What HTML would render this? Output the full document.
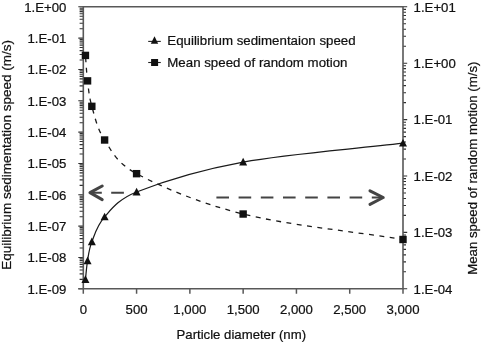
<!DOCTYPE html>
<html><head><meta charset="utf-8"><title>Chart</title><style>html,body{margin:0;padding:0;background:#fff}body{width:482px;height:342px;overflow:hidden}</style></head><body>
<svg width="482" height="342" viewBox="0 0 482 342" style="display:block" font-family="'Liberation Sans', Arial, sans-serif" fill="#111">
<style>text{stroke:#111;stroke-width:.22px}</style>
<rect width="482" height="342" fill="#fff"/>
<path d="M78.3 6.80H83.3M79.6 28.70H83.3M79.6 23.18H83.3M79.6 19.27H83.3M79.6 16.23H83.3M79.6 13.75H83.3M79.6 11.65H83.3M79.6 9.84H83.3M79.6 8.23H83.3M78.3 38.13H83.3M79.6 60.03H83.3M79.6 54.52H83.3M79.6 50.60H83.3M79.6 47.57H83.3M79.6 45.08H83.3M79.6 42.99H83.3M79.6 41.17H83.3M79.6 39.57H83.3M78.3 69.47H83.3M79.6 91.37H83.3M79.6 85.85H83.3M79.6 81.94H83.3M79.6 78.90H83.3M79.6 76.42H83.3M79.6 74.32H83.3M79.6 72.50H83.3M79.6 70.90H83.3M78.3 100.80H83.3M79.6 122.70H83.3M79.6 117.18H83.3M79.6 113.27H83.3M79.6 110.23H83.3M79.6 107.75H83.3M79.6 105.65H83.3M79.6 103.84H83.3M79.6 102.23H83.3M78.3 132.13H83.3M79.6 154.03H83.3M79.6 148.52H83.3M79.6 144.60H83.3M79.6 141.57H83.3M79.6 139.08H83.3M79.6 136.99H83.3M79.6 135.17H83.3M79.6 133.57H83.3M78.3 163.47H83.3M79.6 185.37H83.3M79.6 179.85H83.3M79.6 175.94H83.3M79.6 172.90H83.3M79.6 170.42H83.3M79.6 168.32H83.3M79.6 166.50H83.3M79.6 164.90H83.3M78.3 194.80H83.3M79.6 216.70H83.3M79.6 211.18H83.3M79.6 207.27H83.3M79.6 204.23H83.3M79.6 201.75H83.3M79.6 199.65H83.3M79.6 197.84H83.3M79.6 196.23H83.3M78.3 226.13H83.3M79.6 248.03H83.3M79.6 242.52H83.3M79.6 238.60H83.3M79.6 235.57H83.3M79.6 233.08H83.3M79.6 230.99H83.3M79.6 229.17H83.3M79.6 227.57H83.3M78.3 257.47H83.3M79.6 279.37H83.3M79.6 273.85H83.3M79.6 269.94H83.3M79.6 266.90H83.3M79.6 264.42H83.3M79.6 262.32H83.3M79.6 260.50H83.3M79.6 258.90H83.3M78.3 288.80H83.3" stroke="#303030" stroke-width="1.1" fill="none"/>
<path d="M403.0 6.80H407.2M403.0 46.22H406M403.0 36.29H406M403.0 29.24H406M403.0 23.78H406M403.0 19.31H406M403.0 15.54H406M403.0 12.27H406M403.0 9.38H406M403.0 63.20H407.2M403.0 102.62H406M403.0 92.69H406M403.0 85.64H406M403.0 80.18H406M403.0 75.71H406M403.0 71.94H406M403.0 68.67H406M403.0 65.78H406M403.0 119.60H407.2M403.0 159.02H406M403.0 149.09H406M403.0 142.04H406M403.0 136.58H406M403.0 132.11H406M403.0 128.34H406M403.0 125.07H406M403.0 122.18H406M403.0 176.00H407.2M403.0 215.42H406M403.0 205.49H406M403.0 198.44H406M403.0 192.98H406M403.0 188.51H406M403.0 184.74H406M403.0 181.47H406M403.0 178.58H406M403.0 232.40H407.2M403.0 271.82H406M403.0 261.89H406M403.0 254.84H406M403.0 249.38H406M403.0 244.91H406M403.0 241.14H406M403.0 237.87H406M403.0 234.98H406M403.0 288.80H407.2" stroke="#303030" stroke-width="1.1" fill="none"/>
<path d="M83.30 288.30V293.8M136.58 288.30V293.8M189.87 288.30V293.8M243.15 288.30V293.8M296.43 288.30V293.8M349.72 288.30V293.8M403.00 288.30V293.8" stroke="#585858" stroke-width="1.5" fill="none"/>
<path d="M83.3 288.80V6.80H403.0V288.80" stroke="#585858" stroke-width="1.6" fill="none"/>
<path d="M78.3 288.80H403.6" stroke="#585858" stroke-width="1.6" fill="none"/>
<path d="M85.43 55.40C86.14 63.89 86.50 72.38 87.56 80.87C88.63 89.36 88.98 96.48 91.83 106.33C94.67 116.19 97.15 128.78 104.61 140.00C111.23 149.95 116.11 162.73 136.58 173.67C159.67 186.00 198.75 203.06 243.15 214.03C287.55 225.00 349.72 231.01 403.00 239.50" stroke="#1a1a1a" stroke-width="1.3" fill="none" stroke-dasharray="4.9 5.5" stroke-dashoffset="-2"/>
<path d="M85.43 279.60C86.14 273.31 86.50 267.02 87.56 260.73C88.63 254.45 88.98 249.17 91.83 241.87C94.67 234.57 97.15 225.24 104.61 216.93C110.70 210.14 117.73 199.45 136.58 191.99C159.67 182.85 198.75 170.22 243.15 162.09C287.55 153.96 349.72 149.51 403.00 143.22" stroke="#1a1a1a" stroke-width="1.25" fill="none"/>
<rect x="81.73" y="51.70" width="7.4" height="7.4" fill="#111"/>
<rect x="83.86" y="77.17" width="7.4" height="7.4" fill="#111"/>
<rect x="88.13" y="102.63" width="7.4" height="7.4" fill="#111"/>
<rect x="100.91" y="136.30" width="7.4" height="7.4" fill="#111"/>
<rect x="132.88" y="169.97" width="7.4" height="7.4" fill="#111"/>
<rect x="239.45" y="210.33" width="7.4" height="7.4" fill="#111"/>
<rect x="399.30" y="235.80" width="7.4" height="7.4" fill="#111"/>
<path d="M85.43 275.30L89.43 283.00H81.43Z" fill="#111"/>
<path d="M87.56 256.43L91.56 264.13H83.56Z" fill="#111"/>
<path d="M91.83 237.57L95.83 245.27H87.83Z" fill="#111"/>
<path d="M104.61 212.63L108.61 220.33H100.61Z" fill="#111"/>
<path d="M136.58 187.69L140.58 195.39H132.58Z" fill="#111"/>
<path d="M243.15 157.79L247.15 165.49H239.15Z" fill="#111"/>
<path d="M403.00 138.92L407.00 146.62H399.00Z" fill="#111"/>
<path d="M148.2 41.4H160.8" stroke="#222" stroke-width="1.1"/>
<path d="M154.5 36.3L158.2 43.8H150.8Z" fill="#111"/>
<path d="M148.2 62.5H160.8" stroke="#222" stroke-width="1.1"/>
<rect x="151.1" y="59" width="7" height="7" fill="#111"/>
<text x="167.3" y="45.2" font-size="13" textLength="188.3" lengthAdjust="spacingAndGlyphs">Equilibrium sedimentaion speed</text>
<text x="167.3" y="66.6" font-size="13" textLength="180.2" lengthAdjust="spacingAndGlyphs">Mean speed of random motion</text>
<path d="M90 192.7H101.8M111.2 192.7H123.9" stroke="#444" stroke-width="2" fill="none"/>
<path d="M102.2 186L90 192.7L102.2 199.6" stroke="#444" stroke-width="3.05" fill="none" stroke-linejoin="round" stroke-linecap="round"/>
<path d="M216.4 197.5H383" stroke="#444" stroke-width="2" fill="none" stroke-dasharray="12.6 9.6"/>
<path d="M370 190.8L383.2 197.5L370 204.4" stroke="#444" stroke-width="3.05" fill="none" stroke-linejoin="round" stroke-linecap="round"/>
<text x="66.4" y="11.60" font-size="13.2" text-anchor="end">1.E+00</text>
<text x="66.4" y="42.93" font-size="13.2" text-anchor="end">1.E-01</text>
<text x="66.4" y="74.27" font-size="13.2" text-anchor="end">1.E-02</text>
<text x="66.4" y="105.60" font-size="13.2" text-anchor="end">1.E-03</text>
<text x="66.4" y="136.93" font-size="13.2" text-anchor="end">1.E-04</text>
<text x="66.4" y="168.27" font-size="13.2" text-anchor="end">1.E-05</text>
<text x="66.4" y="199.60" font-size="13.2" text-anchor="end">1.E-06</text>
<text x="66.4" y="230.93" font-size="13.2" text-anchor="end">1.E-07</text>
<text x="66.4" y="262.27" font-size="13.2" text-anchor="end">1.E-08</text>
<text x="66.4" y="293.60" font-size="13.2" text-anchor="end">1.E-09</text>
<text x="413.6" y="11.60" font-size="13.2">1.E+01</text>
<text x="413.6" y="68.00" font-size="13.2">1.E+00</text>
<text x="413.6" y="124.40" font-size="13.2">1.E-01</text>
<text x="413.6" y="180.80" font-size="13.2">1.E-02</text>
<text x="413.6" y="237.20" font-size="13.2">1.E-03</text>
<text x="413.6" y="293.60" font-size="13.2">1.E-04</text>
<text x="83.30" y="314.4" font-size="13.2" text-anchor="middle">0</text>
<text x="136.58" y="314.4" font-size="13.2" text-anchor="middle">500</text>
<text x="189.87" y="314.4" font-size="13.2" text-anchor="middle">1,000</text>
<text x="243.15" y="314.4" font-size="13.2" text-anchor="middle">1,500</text>
<text x="296.43" y="314.4" font-size="13.2" text-anchor="middle">2,000</text>
<text x="349.72" y="314.4" font-size="13.2" text-anchor="middle">2,500</text>
<text x="403.00" y="314.4" font-size="13.2" text-anchor="middle">3,000</text>
<text x="241.3" y="338.5" font-size="13" text-anchor="middle" textLength="129.5" lengthAdjust="spacingAndGlyphs">Particle diameter (nm)</text>
<text transform="translate(11.4 154.8) rotate(-90)" font-size="13" text-anchor="middle" textLength="229.8" lengthAdjust="spacingAndGlyphs">Equilibrium sedimentation speed (m/s)</text>
<text transform="translate(477.2 168.2) rotate(-90)" font-size="13" text-anchor="middle" textLength="213.3" lengthAdjust="spacingAndGlyphs">Mean speed of random motion (m/s)</text>
</svg>
</body></html>
